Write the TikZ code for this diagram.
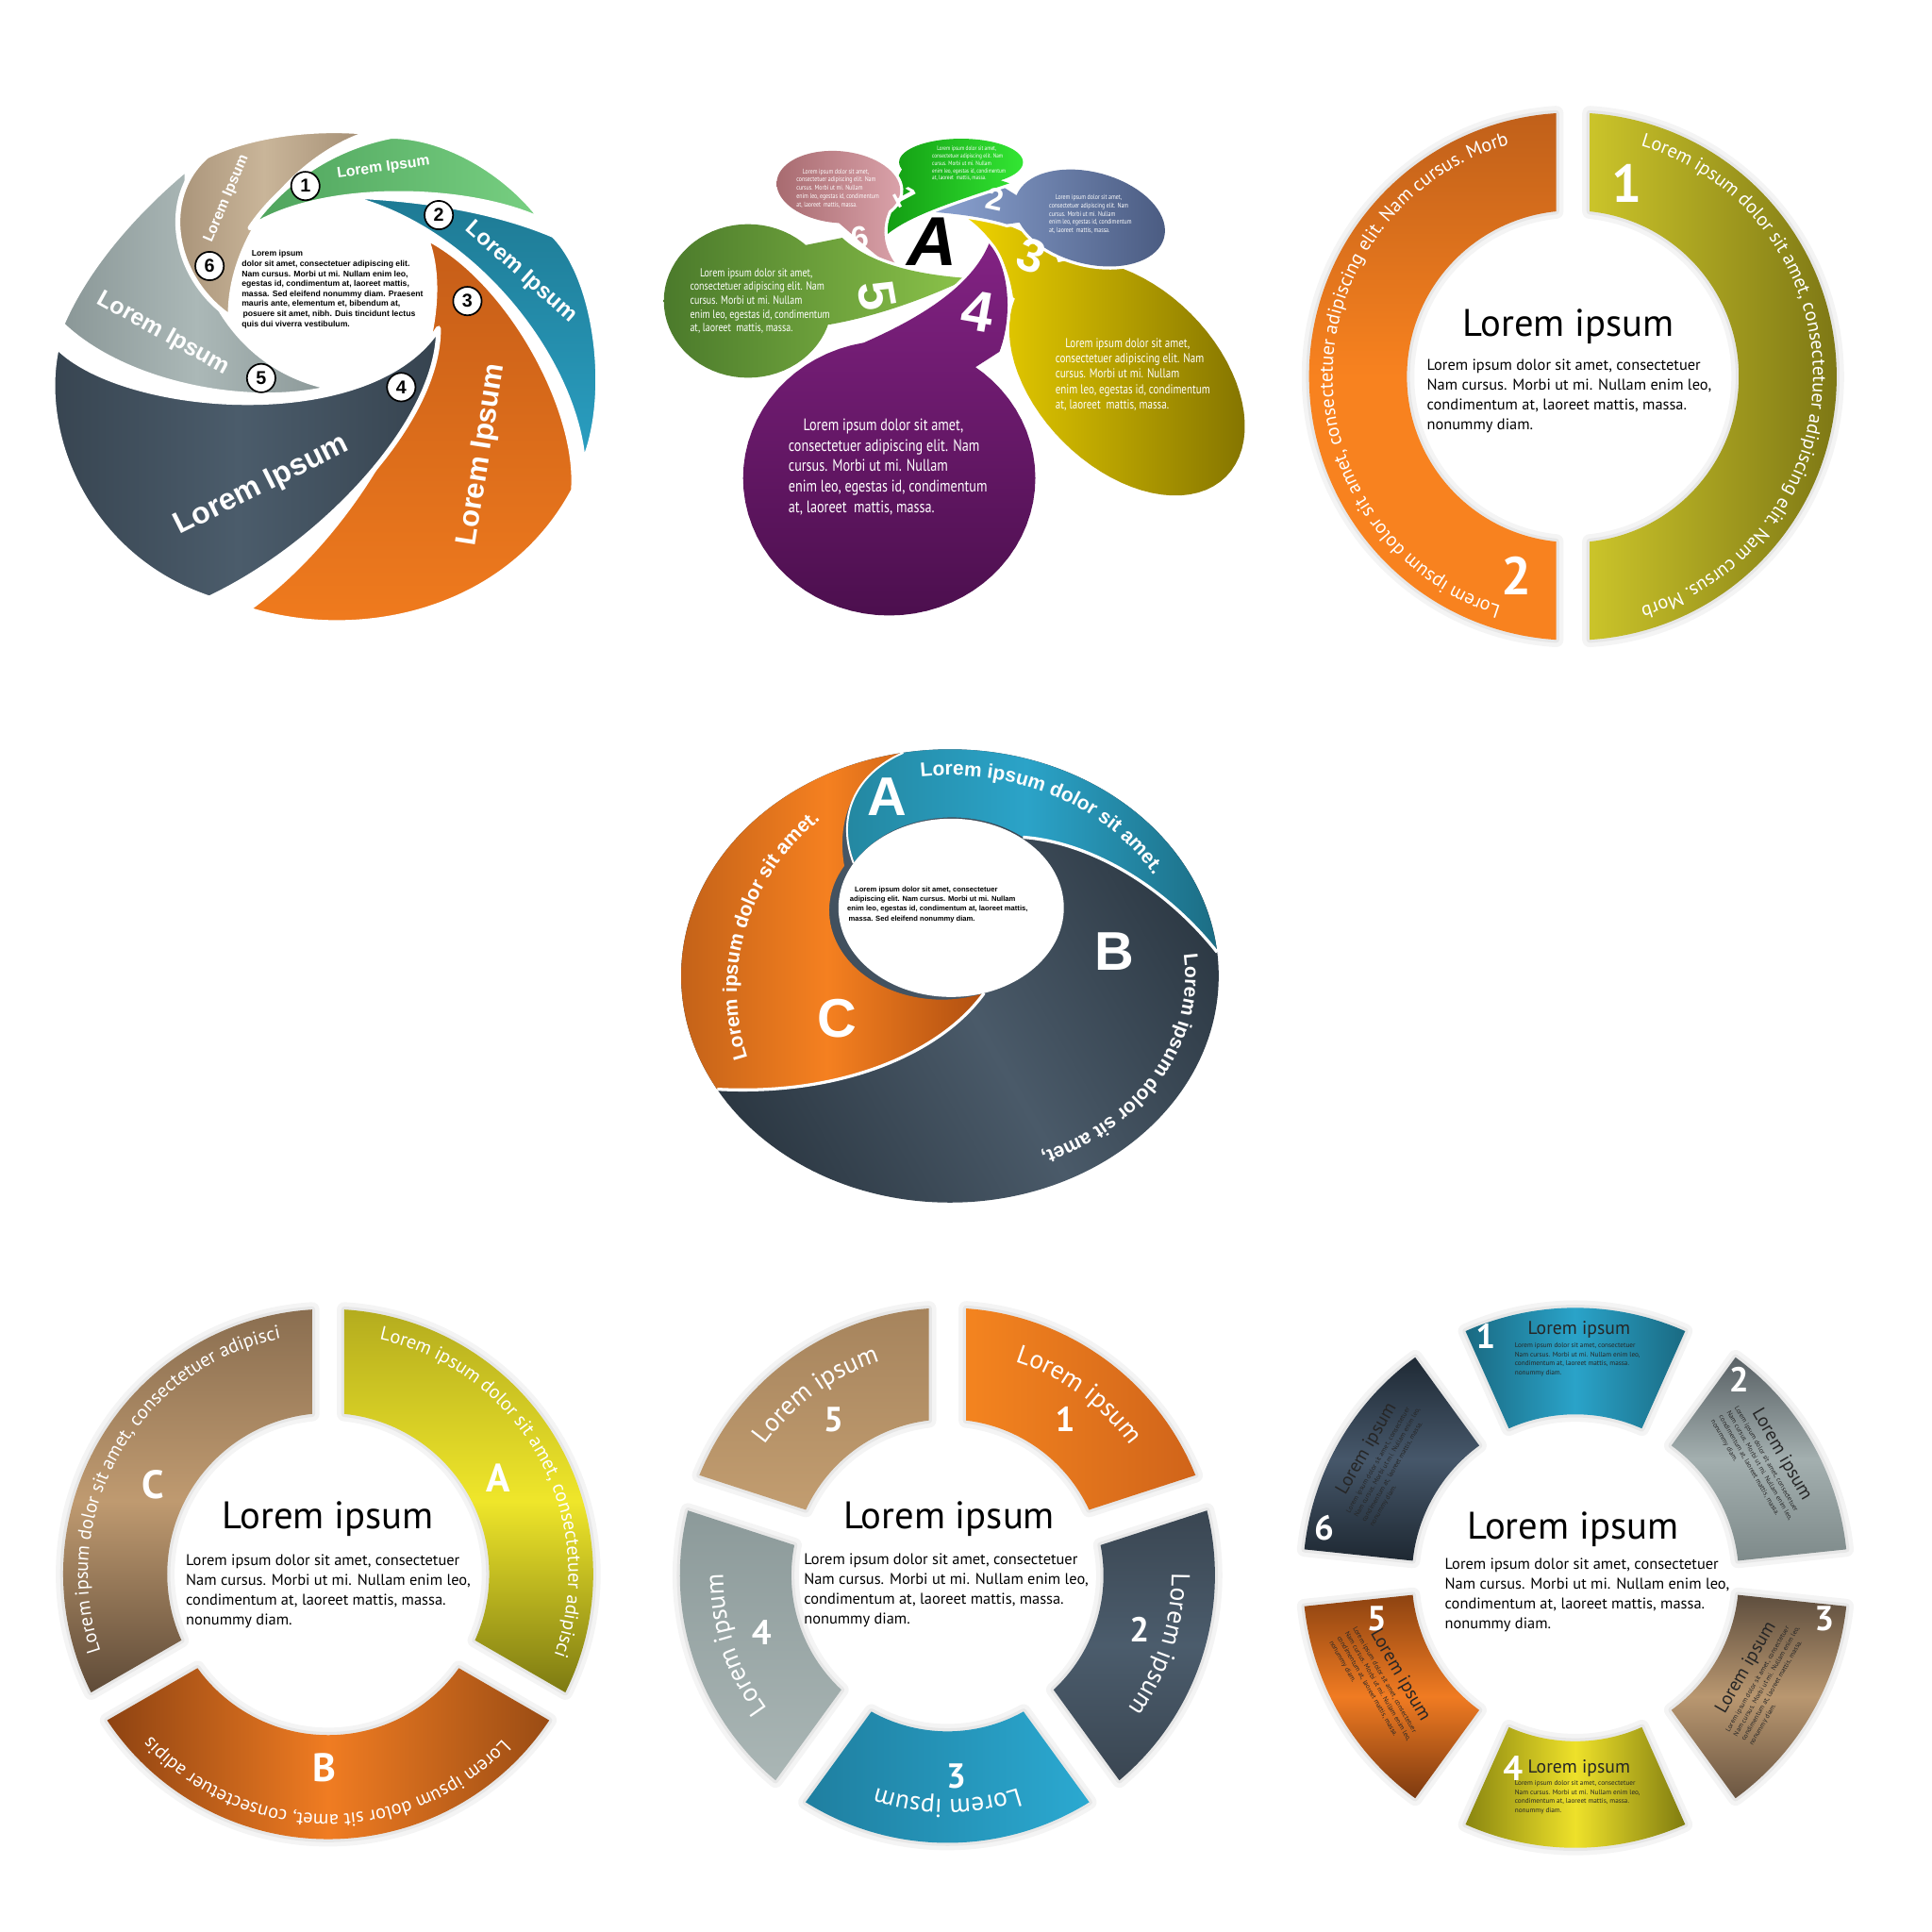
\documentclass[tikz,border=0pt]{standalone}
\usepackage{fontspec}
\setmainfont{PT Sans}
\newfontfamily\arb{Liberation Sans}
\newfontfamily\nar{PT Sans}[FakeStretch=0.8]
\usetikzlibrary{calc,decorations.text}
\newcommand\fz[2]{\fontsize{#1}{#2}\selectfont}
\newcommand\sect[5]{($(#1)+(#2:#4)$) arc[start angle=#2,end angle=#3,radius=#4] -- ($(#1)+(#3:#5)$) arc[start angle=#3,end angle=#2,radius=#5] -- cycle}
\newcommand\gsect[6]{($(#1)+({#2+asin(#6/#4)}:#4)$) arc[start angle={#2+asin(#6/#4)},end angle={#3-asin(#6/#4)},radius=#4] -- ($(#1)+({#3-asin(#6/#5)}:#5)$) arc[start angle={#3-asin(#6/#5)},end angle={#2+asin(#6/#5)},radius=#5] -- cycle}
\newcommand\bub[5]{plot[domain=0:360,samples=73,variable=\t] ({#1+#3*cos(\t)*cos(#5)-#4*sin(\t)*sin(#5)},{#2+#3*cos(\t)*sin(#5)+#4*sin(\t)*cos(#5)}) -- cycle}
\newcommand\bodyA{Lorem ipsum dolor sit amet, consectetuer\\Nam cursus. Morbi ut mi. Nullam enim leo,\\condimentum at, laoreet mattis, massa.\\nonummy diam.}
\newcommand\bubtxt[1]{\hspace*{#1}Lorem ipsum dolor sit amet,\\consectetuer adipiscing elit. Nam\\cursus. Morbi ut mi. Nullam\\enim leo, egestas id, condimentum\\at, laoreet\ \ mattis, massa.}
\newcommand\wfa{\color{white}\fz{15.5}{15.5}}
\newcommand\wfb{\color{white}\arb\bfseries\fz{16}{16}}
\newcommand\wfc{\color{white}\fz{21}{21}}
\newcommand\segtxt[1]{\node[font=\fz{15}{15}, text=black!85, inner sep=0pt, transform shape] (#1t) at (0,0) {Lorem ipsum};
 \node[anchor=north west, align=left, font=\fz{5.5}{7.3}, text=black!85, inner sep=0pt, transform shape] (#1b) at (-52,-10) {\bodyA};}
% colours
\definecolor{gA}{HTML}{4EA35C}\definecolor{gB}{HTML}{78D082}
\definecolor{tA}{HTML}{1E7A94}\definecolor{tB}{HTML}{2A9FC2}
\definecolor{oA}{HTML}{C55D18}\definecolor{oB}{HTML}{F27C1E}
\definecolor{kA}{HTML}{36434F}\definecolor{kB}{HTML}{4B5C6B}
\definecolor{yA}{HTML}{8A9797}\definecolor{yB}{HTML}{ABB8B7}
\definecolor{nA}{HTML}{A38D73}\definecolor{nB}{HTML}{C9B599}
\definecolor{puA}{HTML}{822283}\definecolor{puB}{HTML}{4C0F4E}
\definecolor{yeA}{HTML}{F0D400}\definecolor{yeB}{HTML}{857500}
\definecolor{blA}{HTML}{90A8D8}\definecolor{blB}{HTML}{4B5C82}
\definecolor{g1A}{HTML}{119A11}\definecolor{g1B}{HTML}{33E633}
\definecolor{piA}{HTML}{A86B70}\definecolor{piB}{HTML}{DCA4AC}
\definecolor{g5A}{HTML}{4B7A2B}\definecolor{g5B}{HTML}{8BC34A}
\definecolor{c3oA}{HTML}{C0601A}\definecolor{c3oB}{HTML}{F8821F}
\definecolor{c3yA}{HTML}{CBC42A}\definecolor{c3yB}{HTML}{7B7514}
\definecolor{c4tA}{HTML}{23869F}\definecolor{c4tB}{HTML}{1C6D84}\definecolor{c4tC}{HTML}{2BA3C8}
\definecolor{c4oA}{HTML}{C06018}\definecolor{c4oB}{HTML}{B04F10}\definecolor{c4oC}{HTML}{F58020}
\definecolor{c4kA}{HTML}{2C3843}\definecolor{c4kC}{HTML}{4A5A69}
\definecolor{c5aA}{HTML}{B4AC1E}\definecolor{c5aB}{HTML}{7D7A12}\definecolor{c5aC}{HTML}{EFE62A}
\definecolor{c5bA}{HTML}{8E4312}\definecolor{c5bB}{HTML}{9A4C14}\definecolor{c5bC}{HTML}{F07C22}
\definecolor{c5cA}{HTML}{8A6E50}\definecolor{c5cB}{HTML}{5F4B38}\definecolor{c5cC}{HTML}{BF9A70}
\definecolor{c6o1}{HTML}{F4841F}\definecolor{c6o2}{HTML}{D0641A}
\definecolor{c6k1}{HTML}{3A4652}\definecolor{c6k2}{HTML}{4B5C6C}
\definecolor{c6t1}{HTML}{1F7FA0}\definecolor{c6t2}{HTML}{2BA9D1}
\definecolor{c6g1}{HTML}{8C9A9A}\definecolor{c6g2}{HTML}{AAB6B5}
\definecolor{c6n1}{HTML}{A6845D}\definecolor{c6n2}{HTML}{C29D70}
\definecolor{c7t1}{HTML}{1A6A82}\definecolor{c7t2}{HTML}{2AA3C9}
\definecolor{c7g1}{HTML}{596165}\definecolor{c7g2}{HTML}{7E8A8A}\definecolor{c7g3}{HTML}{A3AFAF}
\definecolor{c7b1}{HTML}{5E4E3E}\definecolor{c7b2}{HTML}{6B5642}\definecolor{c7b3}{HTML}{B99770}
\definecolor{c7y1}{HTML}{8A8610}\definecolor{c7y2}{HTML}{807C10}\definecolor{c7y3}{HTML}{EEE12A}
\definecolor{c7o1}{HTML}{8D4311}\definecolor{c7o2}{HTML}{7D3A10}\definecolor{c7o3}{HTML}{F07B22}
\definecolor{c7k1}{HTML}{1F2A35}\definecolor{c7k2}{HTML}{1E2832}\definecolor{c7k3}{HTML}{46576A}
\tikzset{
 wl/.style={draw=white, line width=4pt, line join=round},
 halo/.style={draw=black, draw opacity=0.045, line width=12pt, line join=round},
 halob/.style={draw=black, draw opacity=0.05, line width=5pt, line join=round},
 numc/.style={circle, draw=black, line width=1.3pt, fill=white, inner sep=0pt, minimum size=23pt, font=\arb\bfseries\fz{15}{15}},
 lbl/.style={text=white, inner sep=0pt},
 wnum/.style={text=white, inner sep=0pt},
 ttl/.style={font=\fz{31}{31}, text=black, inner sep=0pt},
 bdy/.style={anchor=north west, align=left, inner sep=0pt, font=\fz{12.5}{16}, text=black},
 btx/.style={anchor=north west, align=left, inner sep=0pt, text=white},
 ctext/.style={decorate, decoration={text along path, text align=center, text={#1}}}
}
\begin{document}
\begin{tikzpicture}[x=1pt,y=1pt]
\fill[white] (0,0) rectangle (1560,-1560);
\useasboundingbox (0,0) rectangle (1560,-1560);

%================ Diagram 1 : pinwheel
\shadedraw[wl, top color=tA, bottom color=tB] (275,-158) .. controls (340,-160) and (400,-170) .. (447,-190) .. controls (482,-225) and (494,-320) .. (471,-374) .. controls (465,-290) and (380,-180) .. cycle;
\shadedraw[wl, top color=oA, bottom color=oB] (344,-192) .. controls (375,-270) and (300,-420) .. (200,-492) .. controls (290,-520) and (410,-495) .. (463,-396) .. controls (468,-330) and (410,-225) .. cycle;
\shadedraw[wl, left color=kA, right color=kA, middle color=kB] (46,-280) .. controls (100,-335) and (300,-350) .. (354,-265) .. controls (355,-340) and (260,-440) .. (169,-483) .. controls (70,-450) and (30,-350) .. cycle;
\shadedraw[wl, left color=yA, right color=yA, middle color=yB] (268,-313) .. controls (200,-300) and (150,-240) .. (151,-136) .. controls (110,-170) and (70,-215) .. (50,-262) .. controls (100,-310) and (200,-330) .. cycle;
\shadedraw[wl, left color=nA, right color=nA, middle color=nB] (186,-256) .. controls (140,-225) and (128,-160) .. (167,-126) .. controls (200,-110) and (250,-102) .. (299,-107) .. controls (240,-125) and (185,-190) .. cycle;
\shadedraw[wl, left color=gA, right color=gB] (202,-184) .. controls (225,-150) and (265,-120) .. (316,-110) .. controls (360,-110) and (410,-140) .. (438,-178) .. controls (380,-150) and (260,-146) .. cycle;
\node[numc] (n1) at (246.6,-150.2) {1};
\node[numc] (n2) at (354.3,-173.7) {2};
\node[numc] (n3) at (377.4,-243.1) {3};
\node[numc] (n4) at (324,-312.6) {4};
\node[numc] (n5) at (210.9,-305.3) {5};
\node[numc] (n6) at (169.2,-214.8) {6};
\node[lbl, rotate=8, font=\arb\bfseries\fz{12}{12}] (l1) at (309.6,-135.6) {Lorem Ipsum};
\node[lbl, rotate=67, font=\arb\bfseries\fz{12}{12}] (l6) at (183,-160.7) {Lorem Ipsum};
\node[lbl, rotate=-41.5, font=\arb\bfseries\fz{18}{18}] (l2) at (420.5,-220) {Lorem Ipsum};
\node[lbl, rotate=-29, font=\arb\bfseries\fz{19}{19}] (l5) at (131.6,-269.6) {Lorem Ipsum};
\node[lbl, rotate=26.5, font=\arb\bfseries\fz{24.5}{24.5}] (l4) at (211.6,-392.3) {Lorem Ipsum};
\node[lbl, rotate=81, font=\arb\bfseries\fz{23.6}{23.6}] (l3) at (389.6,-367.2) {Lorem Ipsum};
\node[anchor=north west, align=left, inner sep=0pt, font=\arb\bfseries\fz{6.6}{8.1}] (c1) at (195,-202) {\hspace*{8pt}Lorem ipsum\\dolor sit amet, consectetuer adipiscing elit.\\Nam cursus. Morbi ut mi. Nullam enim leo,\\egestas id, condimentum at, laoreet mattis,\\massa. Sed eleifend nonummy diam. Praesent\\mauris ante, elementum et, bibendum at,\\\hspace*{1pt}posuere sit amet, nibh. Duis tincidunt lectus\\quis dui viverra vestibulum.};

%================ Diagram 2 : bubbles
\newcommand\bubY{\bub{910}{-305}{113}{73}{-45} (778,-174) .. controls (795,-185) and (813,-205) .. (818,-240) -- (880,-280) -- (851,-203) .. controls (830,-187) and (805,-176) .. cycle}
\newcommand\bubB{\bub{880}{-176}{62}{37}{-15} (739,-170) .. controls (765,-172) and (790,-174) .. (813,-181) -- (850,-176) -- (810,-151) .. controls (785,-156) and (760,-161) .. cycle}
\newcommand\bubG{\bub{776}{-131}{50}{19}{0} (712.2,-193) .. controls (730,-175) and (770,-163) .. (815,-148) -- (770,-133) -- (728.7,-136) .. controls (718,-155) and (711,-175) .. cycle}
\newcommand\bubP{\bub{677}{-151}{50}{29}{-5} (675,-178) .. controls (695,-195) and (712,-212) .. (731.3,-222.1) .. controls (712,-205) and (708,-180) .. (724,-160) -- (690,-150) -- cycle}
\newcommand\bubF{\bub{604}{-243}{68}{62}{0} (640,-262) -- (670,-262) .. controls (710,-255) and (750,-240) .. (782,-224.7) .. controls (745,-222) and (705,-215) .. (680,-192) -- (640,-200) -- cycle}
\newcommand\bubU{\bub{718}{-386}{118}{111}{0} (798.6,-196.7) .. controls (785,-230) and (745,-258) .. (680,-284) -- (720,-340) -- (807,-284) .. controls (818,-255) and (815,-215) .. cycle}
\draw[white, line width=5pt] \bubY; \shade[left color=yeA, right color=yeB] \bubY;
\draw[white, line width=5pt] \bubB; \shade[left color=blA, right color=blB] \bubB;
\draw[white, line width=5pt] \bubG; \shade[left color=g1A, right color=g1B] \bubG;
\draw[white, line width=5pt] \bubP; \shade[left color=piA, right color=piB] \bubP;
\draw[white, line width=5pt] \bubF; \shade[left color=g5A, right color=g5B] \bubF;
\draw[white, line width=5pt] \bubU; \shade[top color=puA, bottom color=puB] \bubU;
\node[btx, font=\nar\fz{13.5}{16.5}] (t4) at (636.5,-338) {\bubtxt{12pt}};
\node[btx, font=\nar\fz{10.5}{12.4}] (t3) at (852,-273) {\bubtxt{8pt}};
\node[btx, font=\nar\fz{9.5}{11.1}] (t5) at (557,-216.5) {\bubtxt{8pt}};
\node[btx, font=\nar\fz{5.6}{6.8}] (t6) at (643,-136) {\bubtxt{5pt}};
\node[btx, font=\nar\fz{5}{5.9}] (t1) at (752.5,-118) {\bubtxt{4pt}};
\node[btx, font=\nar\fz{5.6}{6.7}] (t2) at (847,-157) {\bubtxt{5pt}};
\node[wnum, rotate=-62, font=\arb\bfseries\fz{25}{25}] (m1) at (731.2,-158.7) {1};
\node[wnum, rotate=-12, font=\arb\bfseries\fz{25}{25}] (m2) at (803.6,-161.2) {2};
\node[wnum, rotate=-20, font=\arb\bfseries\fz{38}{38}] (m3) at (832.8,-206.9) {3};
\node[wnum, rotate=-10, font=\arb\bfseries\fz{46}{46}] (m4) at (789.6,-251.3) {4};
\node[wnum, rotate=-80, font=\arb\bfseries\fz{42}{42}] (m5) at (708.4,-238.6) {5};
\node[wnum, rotate=10, font=\arb\bfseries\fz{25}{25}] (m6) at (694.4,-191.7) {6};
\node[inner sep=0pt, font=\arb\bfseries\itshape\fz{56}{56}] (bigA) at (752.8,-195.5) {A};

%================ Diagram 3 : two halves
\coordinate (O3) at (1270,-304);
\draw[halo] \gsect{O3}{90}{270}{213}{134}{13.5}; \draw[halob] \gsect{O3}{90}{270}{213}{134}{13.5};
\draw[halo] \gsect{O3}{-90}{90}{213}{134}{13.5}; \draw[halob] \gsect{O3}{-90}{90}{213}{134}{13.5};
\shade[top color=c3oA, bottom color=c3oB, middle color=c3oB] \gsect{O3}{90}{270}{213}{134}{13.5};
\shade[left color=c3yA, right color=c3yB] \gsect{O3}{-90}{90}{213}{134}{13.5};
\path[ctext={|\wfa|Lorem ipsum dolor sit amet, consectetuer adipiscing elit. Nam cursus. Morb}] ($(O3)+(-97:194)$) arc[start angle=-97,end angle=-265,radius=194];
\path[ctext={|\wfa|Lorem ipsum dolor sit amet, consectetuer adipiscing elit. Nam cursus. Morb}] ($(O3)+(84:194)$) arc[start angle=84,end angle=-84,radius=194];
\node[wnum, font=\bfseries\fz{43}{43}] (d3n1) at (1313.4,-147.8) {1};
\node[wnum, font=\bfseries\fz{43}{43}] (d3n2) at (1224.8,-464.7) {2};
\node[ttl] (d3t) at (1266.6,-263.6) {Lorem ipsum};
\node[bdy] (d3b) at (1152,-290) {\bodyA};

%================ Diagram 4 : ABC ellipse ring
\coordinate (O4) at (767,-788);
\coordinate (I4) at (768,-733);
\shade[left color=c4kA, right color=c4kA, middle color=c4kC, shading angle=-60] (O4) ellipse [x radius=217, y radius=183];
\shade[left color=c4tA, right color=c4tB, middle color=c4tC] (729.3,-607.8) arc[start angle=100,end angle=6,x radius=217,y radius=183] .. controls (940,-715) and (880,-680) .. (826,-676) arc[start angle=51,end angle=150,x radius=91,y radius=72] .. controls (675,-660) and (690,-625) .. cycle;
\shade[left color=c4oA, right color=c4oB, middle color=c4oC] (729.3,-607.8) arc[start angle=100,end angle=210,x radius=217,y radius=183] .. controls (680,-885) and (760,-850) .. (794.6,-801.9) arc[start angle=-68,end angle=-210,x radius=91,y radius=72] .. controls (675,-660) and (690,-625) .. cycle;
\draw[white, line width=2.5pt] (982.8,-768.9) .. controls (940,-715) and (880,-680) .. (826,-676);
\draw[white, line width=2.5pt] (579.1,-879.5) .. controls (680,-885) and (760,-850) .. (794.6,-801.9);
\draw[white, line width=1.5pt] (689.2,-697) .. controls (675,-660) and (690,-625) .. (729.3,-607.8);
\fill[white] (I4) ellipse [x radius=91, y radius=72];
\path[ctext={|\wfb|Lorem ipsum dolor sit amet.}] ($(O4)+({190*cos(106)},{162*sin(106)})$) arc[start angle=106,end angle=20,x radius=190,y radius=162];
\path[ctext={|\wfb|Lorem ipsum dolor sit amet,}] ($(O4)+({190*cos(12)},{155*sin(12)})$) arc[start angle=12,end angle=-72,x radius=190,y radius=155];
\coordinate (O4c) at (770,-800);
\path[ctext={|\wfb|Lorem ipsum dolor sit amet.}] ($(O4c)+(202:175)$) arc[start angle=202,end angle=124,radius=175];
\node[wnum, font=\arb\bfseries\fz{44}{44}] (d4A) at (716,-643) {A};
\node[wnum, font=\arb\bfseries\fz{44}{44}] (d4B) at (900,-768) {B};
\node[wnum, font=\arb\bfseries\fz{44}{44}] (d4C) at (676,-822) {C};
\node[anchor=north west, align=left, inner sep=0pt, font=\arb\bfseries\fz{5.8}{7.9}] (d4b) at (684,-715.5) {\hspace*{6pt}Lorem ipsum dolor sit amet, consectetuer\\\hspace*{2pt}adipiscing elit. Nam cursus. Morbi ut mi. Nullam\\enim leo, egestas id, condimentum at, laoreet mattis,\\\hspace*{1pt}massa. Sed eleifend nonummy diam.};

%================ Diagram 5 : three segments
\coordinate (O5) at (265,-1271);
\foreach \p/\q in {-30/90,-150/-30,90/210} {\draw[halo] \gsect{O5}{\p}{\q}{214}{130}{13}; \draw[halob] \gsect{O5}{\p}{\q}{214}{130}{13};}
\shade[top color=c5aA, bottom color=c5aB, middle color=c5aC] \gsect{O5}{-30}{90}{214}{130}{13};
\shade[left color=c5bA, right color=c5bB, middle color=c5bC] \gsect{O5}{-150}{-30}{214}{130}{13};
\shade[top color=c5cA, bottom color=c5cB, middle color=c5cC] \gsect{O5}{90}{210}{214}{130}{13};
\path[ctext={|\wfa|Lorem ipsum dolor sit amet, consectetuer adipisci}] ($(O5)+(210:194)$) arc[start angle=210,end angle=90,radius=194];
\path[ctext={|\wfa|Lorem ipsum dolor sit amet, consectetuer adipisci}] ($(O5)+(89:194)$) arc[start angle=89,end angle=-31,radius=194];
\path[ctext={|\wfa|Lorem ipsum dolor sit amet, consectetuer adipis}] ($(O5)+(-30:194)$) arc[start angle=-30,end angle=-151,radius=194];
\node[wnum, font=\bfseries\fz{32}{32}] (d5C) at (123.4,-1199) {C};
\node[wnum, font=\bfseries\fz{32}{32}] (d5A) at (402.2,-1193) {A};
\node[wnum, font=\bfseries\fz{32}{32}] (d5B) at (262,-1427.5) {B};
\node[ttl] (d5t) at (265,-1226.4) {Lorem ipsum};
\node[bdy] (d5b) at (150,-1255) {\bodyA};

%================ Diagram 6 : five segments
\coordinate (O6) at (765,-1272);
\foreach \p/\q in {18/90,-54/18,-126/-54,162/234,90/162} {\draw[halo] \gsect{O6}{\p}{\q}{216}{126}{15}; \draw[halob] \gsect{O6}{\p}{\q}{216}{126}{15};}
\shade[left color=c6o1, right color=c6o2] \gsect{O6}{18}{90}{216}{126}{15};
\shade[top color=c6k1, bottom color=c6k1, middle color=c6k2] \gsect{O6}{-54}{18}{216}{126}{15};
\shade[left color=c6t1, right color=c6t2] \gsect{O6}{-126}{-54}{216}{126}{15};
\shade[top color=c6g1, bottom color=c6g2] \gsect{O6}{162}{234}{216}{126}{15};
\shade[top color=c6n1, bottom color=c6n2] \gsect{O6}{90}{162}{216}{126}{15};
\path[ctext={|\wfc|Lorem ipsum}] ($(O6)+(78:181)$) arc[start angle=78,end angle=30,radius=181];
\path[ctext={|\wfc|Lorem ipsum}] ($(O6)+(6:181)$) arc[start angle=6,end angle=-42,radius=181];
\path[ctext={|\wfc|Lorem ipsum}] ($(O6)+(-66:181)$) arc[start angle=-66,end angle=-114,radius=181];
\path[ctext={|\wfc|Lorem ipsum}] ($(O6)+(222:181)$) arc[start angle=222,end angle=174,radius=181];
\path[ctext={|\wfc|Lorem ipsum}] ($(O6)+(150:181)$) arc[start angle=150,end angle=102,radius=181];
\node[wnum, font=\bfseries\fz{28}{28}] (d6n5) at (673,-1146) {5};
\node[wnum, font=\bfseries\fz{28}{28}] (d6n1) at (860,-1146) {1};
\node[wnum, font=\bfseries\fz{28}{28}] (d6n2) at (920,-1316) {2};
\node[wnum, font=\bfseries\fz{28}{28}] (d6n3) at (772,-1434) {3};
\node[wnum, font=\bfseries\fz{28}{28}] (d6n4) at (615,-1318) {4};
\node[ttl] (d6t) at (766.3,-1226.4) {Lorem ipsum};
\node[bdy] (d6b) at (649,-1254) {\bodyA};

%================ Diagram 7 : six segments
\coordinate (O7) at (1272,-1274);
\foreach \p/\q/\rr in {66/114/218,6/54/220,-54/-6/220,-114/-66/218,186/234/220,126/174/220} {\draw[halo] \sect{O7}{\p}{\q}{\rr}{132}; \draw[halob] \sect{O7}{\p}{\q}{\rr}{132};}
\shade[left color=c7t1, right color=c7t1, middle color=c7t2] \sect{O7}{66}{114}{218}{132};
\shade[top color=c7g1, bottom color=c7g2, middle color=c7g3] \sect{O7}{6}{54}{220}{132};
\shade[top color=c7b1, bottom color=c7b2, middle color=c7b3] \sect{O7}{-54}{-6}{220}{132};
\shade[left color=c7y1, right color=c7y2, middle color=c7y3] \sect{O7}{-114}{-66}{218}{132};
\shade[top color=c7o1, bottom color=c7o2, middle color=c7o3] \sect{O7}{186}{234}{220}{132};
\shade[top color=c7k1, bottom color=c7k2, middle color=c7k3] \sect{O7}{126}{174}{220}{132};
\begin{scope}[shift={(1275,-1074)}] \segtxt{s1} \end{scope}
\begin{scope}[shift={(1275,-1427.5)}] \segtxt{s4} \end{scope}
\begin{scope}[shift={(1438.6,-1174.6)}, rotate=-60] \segtxt{s2} \end{scope}
\begin{scope}[shift={(1410,-1346.8)}, rotate=60] \segtxt{s3} \end{scope}
\begin{scope}[shift={(1130.4,-1353)}, rotate=-60] \segtxt{s5} \end{scope}
\begin{scope}[shift={(1103.6,-1170)}, rotate=60] \segtxt{s6} \end{scope}
\node[wnum, font=\bfseries\fz{28}{28}] (d7n1) at (1199.5,-1078.7) {1};
\node[wnum, font=\bfseries\fz{28}{28}] (d7n2) at (1404,-1113.7) {2};
\node[wnum, font=\bfseries\fz{28}{28}] (d7n3) at (1473,-1307) {3};
\node[wnum, font=\bfseries\fz{28}{28}] (d7n4) at (1221.6,-1427.5) {4};
\node[wnum, font=\bfseries\fz{28}{28}] (d7n5) at (1111.5,-1307) {5};
\node[wnum, font=\bfseries\fz{28}{28}] (d7n6) at (1069,-1234) {6};
\node[ttl] (d7t) at (1270,-1235) {Lorem ipsum};
\node[bdy] (d7b) at (1166.5,-1258) {\bodyA};
\end{tikzpicture}
\end{document}
